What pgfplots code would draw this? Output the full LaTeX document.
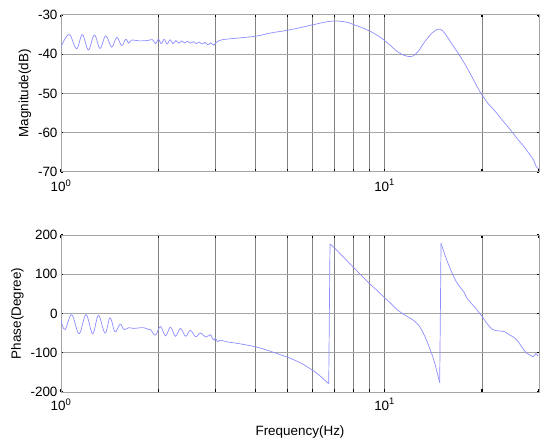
\documentclass[border=0pt]{standalone}
\usepackage{pgfplots}
\pgfplotsset{compat=1.18}
\usepackage{fontspec}
\setmainfont{Liberation Sans}
\definecolor{curvecol}{RGB}{140,140,255}
\definecolor{hgrid}{RGB}{165,165,165}
\definecolor{vgrid}{RGB}{130,130,130}
\begin{document}
\begin{tikzpicture}
\begin{axis}[at={(61bp,266bp)}, anchor=south west,
    scale only axis, width=478bp, height=157bp,
    xmode=log, xmin=1, xmax=30,
    xtick={1,10}, xticklabels={10\textsuperscript{0},10\textsuperscript{1}},
    minor xtick={2,3,4,5,6,7,8,9,10,20,30},
    xminorgrids=true, ymajorgrids=true,
    major grid style={hgrid, line width=1pt},
    minor grid style={vgrid, line width=0.7pt},
    axis line style={hgrid, line width=1pt},
    tick style={black, line width=1.2pt},
    major tick length=2.5bp, minor tick length=2.5bp,
    tick align=inside,
    /pgf/number format/assume math mode=true,
    tick label style={font=\fontsize{13.5}{15}\selectfont},
    xticklabel style={yshift=-4bp},
    label style={font=\fontsize{13.5}{15}\selectfont},
  ymin=-70, ymax=-30, ytick={-70,-60,-50,-40,-30},
  ylabel={Magnitude(dB)}]
\addplot[curvecol, line width=0.7pt, mark=none, smooth, tension=0.6] coordinates {
(1.000,-38.2) (1.03,-36.0) (1.066,-35.1) (1.118,-38.6) (1.164,-35.0) (1.215,-38.9)
(1.268,-35.1) (1.32,-38.5) (1.375,-35.3) (1.435,-38.2) (1.487,-35.7) (1.54,-37.8)
(1.585,-36.2) (1.62,-37.2) (1.65,-36.4) (1.75,-36.6) (1.85,-36.5)
(1.919,-36.3) (1.959,-37.3) (2.0,-36.2) (2.042,-37.3) (2.084,-36.2) (2.128,-37.4)
(2.173,-36.3) (2.218,-37.3) (2.265,-36.5) (2.312,-37.2) (2.360,-36.6) (2.410,-37.1)
(2.460,-36.7) (2.512,-37.2) (2.564,-36.8) (2.618,-37.3) (2.673,-36.9) (2.729,-37.4)
(2.786,-37.0) (2.844,-37.6) (2.904,-37.1) (2.965,-37.7) (3.027,-36.9)
(3.15,-36.3) (3.5,-35.9) (4.0,-35.4) (4.43,-34.6) (5,-33.9) (5.5,-33.2) (6,-32.5)
(6.65,-31.7) (7,-31.5) (7.6,-31.8) (8,-32.4) (8.5,-33.2) (9,-34.1) (9.5,-35.2)
(10,-36.5) (10.5,-38.0) (10.94,-39.3) (11.5,-40.3) (12.0,-40.6) (12.3,-40.4)
(12.8,-38.9) (13.2,-37.2) (13.7,-35.5) (14.2,-34.2) (14.7,-33.6) (15.1,-34.0)
(15.6,-35.5) (16.2,-37.6) (16.9,-39.8) (17.7,-42.5) (18.6,-45.7) (19.3,-48.2)
(20,-50.4) (20.9,-52.6) (21.8,-54.2) (23,-56.6) (24.5,-59.3) (25.7,-61.5)
(27,-63.6) (28,-65.4) (28.9,-67.0) (29.4,-68.6) (30,-69.2)
};
\end{axis}
\begin{axis}[at={(61bp,46bp)}, anchor=south west,
    scale only axis, width=478bp, height=157bp,
    xmode=log, xmin=1, xmax=30,
    xtick={1,10}, xticklabels={10\textsuperscript{0},10\textsuperscript{1}},
    minor xtick={2,3,4,5,6,7,8,9,10,20,30},
    xminorgrids=true, ymajorgrids=true,
    major grid style={hgrid, line width=1pt},
    minor grid style={vgrid, line width=0.7pt},
    axis line style={hgrid, line width=1pt},
    tick style={black, line width=1.2pt},
    major tick length=2.5bp, minor tick length=2.5bp,
    tick align=inside,
    /pgf/number format/assume math mode=true,
    tick label style={font=\fontsize{13.5}{15}\selectfont},
    xticklabel style={yshift=-3bp},
    label style={font=\fontsize{13.5}{15}\selectfont},
    xlabel style={yshift=-8bp},
  ymin=-200, ymax=200, ytick={-200,-100,0,100,200},
  ylabel={Phase(Degree)}, xlabel={Frequency(Hz)}]
\addplot[curvecol, line width=0.7pt, mark=none, smooth, tension=0.6] coordinates {
(1.0,-18) (1.029,-41) (1.079,-3) (1.137,-51.6) (1.195,-3) (1.253,-51.6)
(1.305,-5) (1.368,-50) (1.418,-11) (1.469,-47) (1.523,-27) (1.567,-41)
(1.62,-36) (1.674,-38) (1.798,-36) (1.864,-41)
(1.888,-40) (1.959,-55) (2.028,-33) (2.104,-57) (2.178,-35) (2.259,-58)
(2.339,-38) (2.427,-58) (2.512,-43) (2.606,-59) (2.698,-50) (2.799,-60)
(2.897,-54) (2.93,-62) (2.97,-68) (3.0,-63) (3.05,-72) (3.1,-68)
(3.3,-73) (3.5,-76) (4.0,-85) (4.43,-96) (4.76,-105) (5,-111) (5.5,-126)
(6,-145) (6.3,-158) (6.65,-176) (6.72,-178)
};
\addplot[curvecol, line width=0.7pt, mark=none] coordinates {(6.72,-178) (6.78,177)};
\addplot[curvecol, line width=0.7pt, mark=none, smooth, tension=0.5] coordinates {
(6.78,177) (7,167) (7.5,142)
(8,118) (8.5,96) (9,75.5) (9.5,58) (10,40) (10.5,24) (10.94,9.4) (11.6,-5)
(12.3,-17.8) (12.8,-32) (13.2,-51.6) (13.7,-83) (14.2,-119) (14.8,-176)
};
\addplot[curvecol, line width=0.7pt, mark=none] coordinates {(14.8,-176) (14.94,178.7)};
\addplot[curvecol, line width=0.7pt, mark=none, smooth, tension=0.5] coordinates {
(14.94,178.7) (15.5,140) (16.2,101) (16.8,76) (17.6,54) (18.0,38) (18.9,18)
(20,-7) (20.7,-25) (21.5,-40) (22.3,-44) (23.4,-46) (24.4,-55) (25.4,-64)
(26.2,-78) (27,-94) (27.6,-102) (28.3,-107) (28.8,-110) (29.35,-102)
(29.7,-107) (29.8,-105)
};
\end{axis}
\pgfresetboundingbox
\path[use as bounding box] (0,0) rectangle (550bp,438bp);
\end{tikzpicture}
\end{document}
